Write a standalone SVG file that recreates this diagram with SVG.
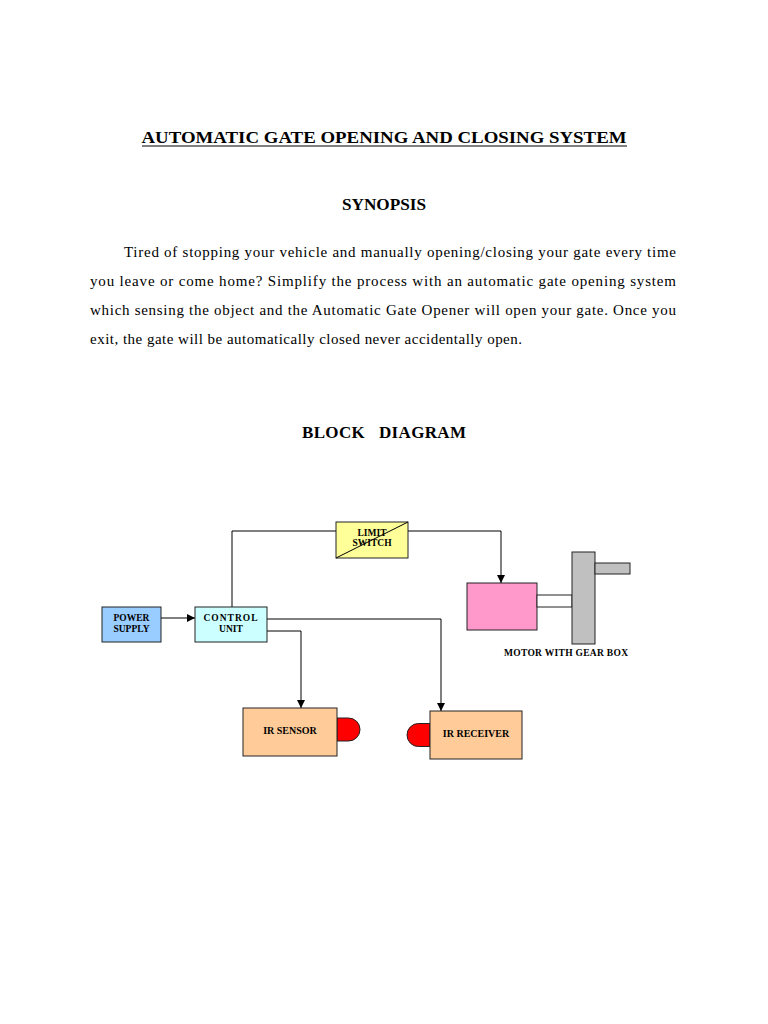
<svg xmlns="http://www.w3.org/2000/svg" width="768" height="1024" viewBox="0 0 768 1024">
<style>
.h{font-family:"Liberation Serif","Times New Roman",serif;font-weight:bold;font-size:17px;fill:#000}
.p{font-family:"Liberation Serif","Times New Roman",serif;font-size:15px;fill:#000}
.l{font-family:"Liberation Serif","Times New Roman",serif;font-weight:bold;font-size:9.5px;fill:#000;text-anchor:middle}
.box{stroke:#222;stroke-width:1}
.c{fill:none;stroke:#000;stroke-width:1}
</style>
<defs>
<marker id="ar" viewBox="0 0 10 10" refX="10" refY="5" markerWidth="8" markerHeight="8" markerUnits="userSpaceOnUse" orient="auto">
<path d="M0,0 L10,5 L0,10 z" fill="#000"/>
</marker>
</defs>
<rect width="768" height="1024" fill="#fff"/>
<g id="title">
<text class="h" x="384" y="143" text-anchor="middle" textLength="485" lengthAdjust="spacingAndGlyphs">AUTOMATIC GATE OPENING AND CLOSING SYSTEM</text>
<line x1="142" y1="146" x2="627" y2="146" stroke="#000" stroke-width="1"/>
<text class="h" x="384" y="210" text-anchor="middle" textLength="84" lengthAdjust="spacingAndGlyphs">SYNOPSIS</text>
</g>
<g id="paragraph">
<text class="p" x="124" y="257" textLength="552" lengthAdjust="spacing">Tired of stopping your vehicle and manually opening/closing your gate every time</text>
<text class="p" x="90" y="286" textLength="586" lengthAdjust="spacing">you leave or come home? Simplify the process with an automatic gate opening system</text>
<text class="p" x="90" y="315" textLength="586" lengthAdjust="spacing">which sensing the object and the Automatic Gate Opener will open your gate. Once you</text>
<text class="p" x="90" y="344" textLength="432" lengthAdjust="spacing">exit, the gate will be automatically closed never accidentally open.</text>
</g>
<g id="heading2">
<text class="h" x="384" y="438" text-anchor="middle" xml:space="preserve" textLength="164" lengthAdjust="spacing">BLOCK   DIAGRAM</text>
</g>
<g id="connectors">
<line class="c" x1="161" y1="618" x2="195" y2="618" marker-end="url(#ar)"/>
<polyline class="c" points="232,615 232,531 336,531"/>
<polyline class="c" points="408,531 501,531 501,583" marker-end="url(#ar)"/>
<polyline class="c" points="267,619 441,619 441,711" marker-end="url(#ar)"/>
<polyline class="c" points="267,631 301,631 301,708" marker-end="url(#ar)"/>
</g>
<g id="power-supply">
<rect class="box" x="102" y="607" width="59" height="35" fill="#99CCFF"/>
<text class="l" x="131.5" y="621">POWER</text>
<text class="l" x="131.5" y="632">SUPPLY</text>
</g>
<g id="control-unit">
<rect class="box" x="195" y="607" width="72" height="35" fill="#CCFFFF"/>
<text class="l" x="231" y="621" letter-spacing="1">CONTROL</text>
<text class="l" x="231" y="632">UNIT</text>
</g>
<g id="limit-switch">
<rect class="box" x="336" y="522" width="72" height="36" fill="#FFFF99"/>
<text class="l" x="372" y="536">LIMIT</text>
<text class="l" x="372" y="546">SWITCH</text>
<line x1="336" y1="558" x2="408" y2="522" stroke="#000" stroke-width="1"/>
</g>
<g id="motor-gear-box">
<rect class="box" x="467" y="583" width="70" height="47" fill="#FF99CC"/>
<rect class="box" x="537" y="595" width="35" height="12" fill="#fff"/>
<rect class="box" x="572" y="552" width="23" height="92" fill="#C0C0C0"/>
<rect class="box" x="595" y="563" width="35" height="11" fill="#C0C0C0"/>
<text class="l" x="566" y="656" textLength="124" lengthAdjust="spacing">MOTOR WITH GEAR BOX</text>
</g>
<g id="ir-sensor">
<path class="box" d="M337,718 H348.5 A11.5,11.5 0 0 1 348.5,741 H337 Z" fill="#FF0000"/>
<rect class="box" x="243" y="708" width="94" height="48" fill="#FFCC99"/>
<text class="l" x="290" y="734" style="font-size:10px">IR SENSOR</text>
</g>
<g id="ir-receiver">
<path class="box" d="M430,723.5 H418.5 A11.5,11.5 0 0 0 418.5,746.5 H430 Z" fill="#FF0000"/>
<rect class="box" x="430" y="711" width="92" height="48" fill="#FFCC99"/>
<text class="l" x="476" y="737" style="font-size:10px">IR RECEIVER</text>
</g>
</svg>
